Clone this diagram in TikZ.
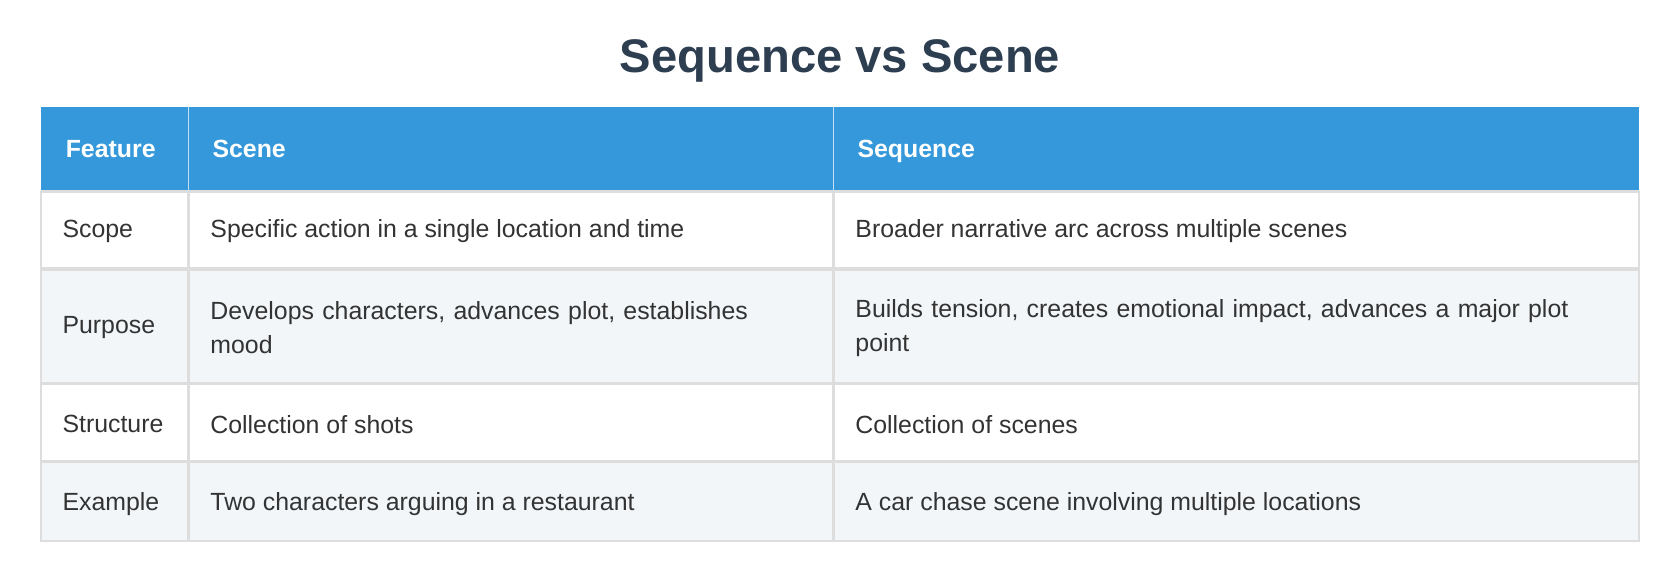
\documentclass[tikz,border=0pt]{standalone}
\usepackage{fontspec}
\setmainfont{Liberation Sans}
\usetikzlibrary{positioning}
\definecolor{headblue}{HTML}{3498DB}
\definecolor{titlecol}{HTML}{2C3E50}
\definecolor{stripe}{HTML}{F2F6F9}
\definecolor{gridcol}{HTML}{DDDDDD}
\definecolor{textcol}{HTML}{333333}

\begin{document}
\begin{tikzpicture}[
    x = 0.5pt, y = -0.5pt,
    cell/.style={anchor=west, text=textcol, font=\fontsize{11.6}{16}\selectfont, align=left, inner sep=0pt},
    head/.style={cell, anchor=base west, text=white, font=\fontsize{11.6}{16}\selectfont\bfseries},
    grid/.style={draw=gridcol, line width=1.5pt}
]
\useasboundingbox (0,0) rectangle (1568,545);

% Title
\node[text=titlecol, font=\fontsize{22}{26}\selectfont\bfseries] (title) at (784,57) {Sequence vs Scene};

% Row backgrounds
\fill[headblue] (38,100) rectangle (1530,179);
\fill[white] (38,179) rectangle (1530,251);
\fill[stripe] (38,251) rectangle (1530,358);
\fill[white] (38,358) rectangle (1530,431);
\fill[stripe] (38,431) rectangle (1530,505);

% Grid
\foreach \y in {179,251,358,431}
    \draw[grid] (38,\y) -- (1530,\y);
\draw[grid] (176,179) -- (176,505);
\draw[grid] (778,179) -- (778,505);
\draw[gridcol, line width=0.8pt] (38,179) rectangle (1530,505);
\draw[white!70!headblue, line width=0.6pt] (176,100) -- (176,179) (778,100) -- (778,179);

% Header
\node[head] (hfeat) at (61,147) {Feature};
\node[head] (hscene) at (198,147) {Scene};
\node[head] (hseq) at (800,147) {Sequence};

% Rows
\node[cell] (scope) at (58,216) {Scope};
\node[cell] (scopea) at (196,216) {Specific action in a single location and time};
\node[cell] (scopeb) at (798,216) {Broader narrative arc across multiple scenes};

\node[cell] (purpose) at (58,306) {Purpose};
\node[cell, text width=265pt] (purposea) at (196,306) {Develops characters, advances plot, establishes mood};
\node[cell, text width=345pt] (purposeb) at (798,306) {Builds tension, creates emotional impact, advances a major plot point};

\node[cell] (structure) at (58,396) {Structure};
\node[cell] (structurea) at (196,396) {Collection of shots};
\node[cell] (structureb) at (798,396) {Collection of scenes};

\node[cell] (example) at (58,470) {Example};
\node[cell] (examplea) at (196,470) {Two characters arguing in a restaurant};
\node[cell] (exampleb) at (798,470) {A car chase scene involving multiple locations};
\end{tikzpicture}
\end{document}
